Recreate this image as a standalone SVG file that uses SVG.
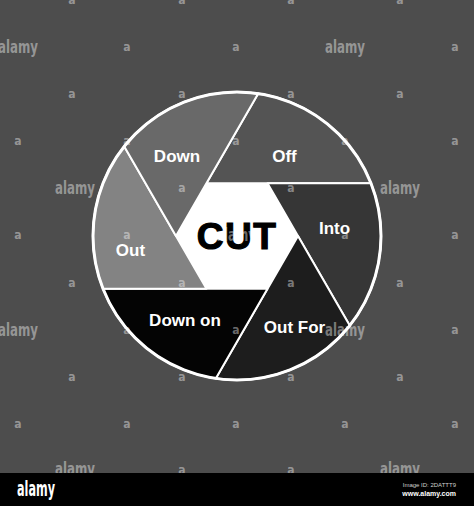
<svg xmlns="http://www.w3.org/2000/svg" width="474" height="506" viewBox="0 0 474 506">
<style>
.blade{stroke:#ffffff;stroke-width:2;stroke-linejoin:round}
.lbl{font-family:"Liberation Sans",Arial,sans-serif;font-weight:bold;font-size:17px;fill:#ffffff;text-anchor:middle}
.cut{font-family:"Liberation Sans",Arial,sans-serif;font-weight:900;font-size:37px;fill:#000000;stroke:#000000;stroke-width:1.2px;text-anchor:middle;letter-spacing:1.5px}
.wm{font-family:"DejaVu Sans Condensed","DejaVu Sans",sans-serif;font-weight:bold;fill:#ffffff;fill-opacity:0.42;text-anchor:middle}
.wa{font-size:12px}
.wl{font-size:18px}
</style>
<rect x="0" y="0" width="474" height="506" fill="#4d4d4d"/>
<g id="aperture">
<circle cx="237" cy="236" r="144" fill="#ffffff"/>
<g id="blade-off"><path class="blade" fill="#545454" d="M206.5,183.17 L370.96,183.17 A144,144 0 0 0 258.23,93.57 Z"/><text class="lbl" x="284.5" y="162">Off</text></g>
<g id="blade-into"><path class="blade" fill="#363636" d="M267.5,183.17 L349.73,325.6 A144,144 0 0 0 370.96,183.17 Z"/><text class="lbl" x="334.5" y="234">Into</text></g>
<g id="blade-outfor"><path class="blade" fill="#1d1d1d" d="M298,236 L215.77,378.43 A144,144 0 0 0 349.73,325.6 Z"/><text class="lbl" x="294.5" y="333">Out For</text></g>
<g id="blade-downon"><path class="blade" fill="#040404" d="M267.5,288.83 L103.04,288.83 A144,144 0 0 0 215.77,378.43 Z"/><text class="lbl" x="185" y="326">Down on</text></g>
<g id="blade-out"><path class="blade" fill="#838383" d="M206.5,288.83 L124.27,146.4 A144,144 0 0 0 103.04,288.83 Z"/><text class="lbl" x="130.5" y="256">Out</text></g>
<g id="blade-down"><path class="blade" fill="#696969" d="M176,236 L258.23,93.57 A144,144 0 0 0 124.27,146.4 Z"/><text class="lbl" x="177" y="162">Down</text></g>
<circle cx="237" cy="236" r="144" fill="none" stroke="#ffffff" stroke-width="3"/>
<g id="center"><text class="cut" x="237" y="249">CUT</text></g>
</g>
<g id="watermark" class="wm">
<text class="wa" x="72" y="4">a</text><text class="wa" x="182" y="4">a</text><text class="wa" x="291" y="4">a</text><text class="wa" x="400" y="4">a</text>
<text class="wl" x="18" y="53" textLength="40" lengthAdjust="spacingAndGlyphs">alamy</text><text class="wa" x="127" y="51">a</text><text class="wa" x="236" y="51">a</text><text class="wl" x="345" y="53" textLength="40" lengthAdjust="spacingAndGlyphs">alamy</text><text class="wa" x="455" y="51">a</text>
<text class="wa" x="72" y="98">a</text><text class="wa" x="182" y="98">a</text><text class="wa" x="291" y="98">a</text><text class="wa" x="400" y="98">a</text>
<text class="wa" x="18" y="145">a</text><text class="wa" x="127" y="145">a</text><text class="wa" x="236" y="145">a</text><text class="wa" x="345" y="145">a</text><text class="wa" x="455" y="145">a</text>
<text class="wl" x="75" y="194" textLength="40" lengthAdjust="spacingAndGlyphs">alamy</text><text class="wa" x="182" y="192">a</text><text class="wa" x="291" y="192">a</text><text class="wl" x="400" y="194" textLength="40" lengthAdjust="spacingAndGlyphs">alamy</text>
<text class="wa" x="18" y="239">a</text><text class="wa" x="127" y="239">a</text><text class="wl" x="236" y="241" textLength="40" lengthAdjust="spacingAndGlyphs">alamy</text><text class="wa" x="345" y="239">a</text><text class="wa" x="455" y="239">a</text>
<text class="wa" x="72" y="287">a</text><text class="wa" x="182" y="287">a</text><text class="wa" x="291" y="287">a</text><text class="wa" x="400" y="287">a</text>
<text class="wl" x="18" y="336" textLength="40" lengthAdjust="spacingAndGlyphs">alamy</text><text class="wa" x="127" y="334">a</text><text class="wa" x="236" y="334">a</text><text class="wl" x="345" y="336" textLength="40" lengthAdjust="spacingAndGlyphs">alamy</text><text class="wa" x="455" y="334">a</text>
<text class="wa" x="72" y="381">a</text><text class="wa" x="182" y="381">a</text><text class="wa" x="291" y="381">a</text><text class="wa" x="400" y="381">a</text>
<text class="wa" x="18" y="428">a</text><text class="wa" x="127" y="428">a</text><text class="wa" x="236" y="428">a</text><text class="wa" x="345" y="428">a</text><text class="wa" x="455" y="428">a</text>
<text class="wl" x="75" y="475" textLength="40" lengthAdjust="spacingAndGlyphs">alamy</text><text class="wa" x="182" y="474">a</text><text class="wa" x="291" y="474">a</text><text class="wl" x="400" y="475" textLength="40" lengthAdjust="spacingAndGlyphs">alamy</text>
</g>
<g id="footer">
<rect x="0" y="473" width="474" height="33" fill="#000000"/>
<text x="36" y="496" font-family="DejaVu Sans Condensed,DejaVu Sans,sans-serif" font-weight="bold" font-size="21" fill="#ffffff" text-anchor="middle" textLength="38" lengthAdjust="spacingAndGlyphs">alamy</text>
<text x="456" y="487" font-family="Liberation Sans,Arial,sans-serif" font-size="6" fill="#d0d0d0" text-anchor="end">Image ID: 2DATTT9</text>
<text x="456" y="496" font-family="Liberation Sans,Arial,sans-serif" font-weight="bold" font-size="7" fill="#ffffff" text-anchor="end">www.alamy.com</text>
</g>
</svg>
